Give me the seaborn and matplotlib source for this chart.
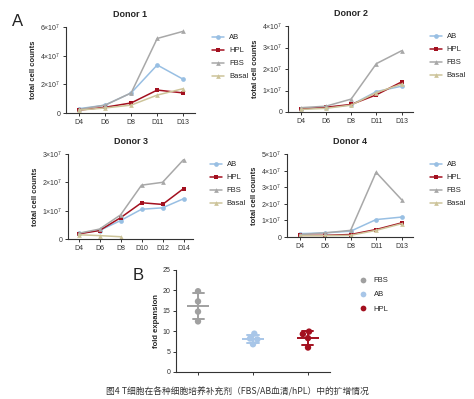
import numpy as np
import pandas as pd
import matplotlib
matplotlib.use("Agg")
import matplotlib.pyplot as plt
import seaborn as sns

sns.set_style("white")
plt.rcParams['font.family'] = ['Liberation Sans', 'Noto Sans CJK SC', 'DejaVu Sans']
plt.rcParams['mathtext.fontset'] = 'custom'
plt.rcParams['mathtext.rm'] = 'Liberation Sans'

# ---- data (cell counts in units of 1e7) ----
MEDIA = ["AB", "HPL", "FBS", "Basal"]
COLORS = {"AB": "#98bfe3", "HPL": "#a3101f", "FBS": "#a8a8a8", "Basal": "#cdc49a"}
MARKERS = {"AB": "o", "HPL": "s", "FBS": "^", "Basal": "^"}

days_1 = ["D4", "D6", "D8", "D11", "D13"]
d1_ab = [0.30, 0.55, 1.40, 3.35, 2.35]
d1_hpl = [0.20, 0.40, 0.70, 1.60, 1.40]
d1_fbs = [0.25, 0.55, 1.40, 5.20, 5.70]
d1_basal = [0.20, 0.35, 0.55, 1.25, 1.70]

days_2 = ["D4", "D6", "D8", "D11", "D13"]
d2_ab = [0.15, 0.20, 0.33, 0.95, 1.20]
d2_hpl = [0.15, 0.22, 0.35, 0.80, 1.40]
d2_fbs = [0.20, 0.27, 0.60, 2.25, 2.85]
d2_basal = [0.12, 0.17, 0.32, 0.90, 1.30]

days_3 = ["D4", "D6", "D8", "D10", "D12", "D14"]
d3_ab = [0.20, 0.30, 0.65, 1.05, 1.10, 1.42]
d3_hpl = [0.18, 0.30, 0.75, 1.28, 1.22, 1.78]
d3_fbs = [0.20, 0.35, 0.85, 1.90, 2.00, 2.80]
d3_basal = [0.15, 0.12, 0.08]

days_4 = ["D4", "D6", "D8", "D11", "D13"]
d4_ab = [0.20, 0.25, 0.35, 1.05, 1.20]
d4_hpl = [0.10, 0.10, 0.15, 0.45, 0.85]
d4_fbs = [0.15, 0.25, 0.40, 3.90, 2.25]
d4_basal = [0.08, 0.08, 0.10, 0.40, 0.80]

b_groups = ["FBS", "AB", "HPL"]
b_fbs = [19.8, 17.3, 14.8, 12.4]
b_ab = [9.4, 8.2, 8.0, 6.8]
b_hpl = [9.9, 9.3, 8.3, 6.0]

donors = [
    ("Donor 1", days_1, [d1_ab, d1_hpl, d1_fbs, d1_basal], [0, 2, 4, 6]),
    ("Donor 2", days_2, [d2_ab, d2_hpl, d2_fbs, d2_basal], [0, 1, 2, 3, 4]),
    ("Donor 3", days_3, [d3_ab, d3_hpl, d3_fbs, d3_basal], [0, 1, 2, 3]),
    ("Donor 4", days_4, [d4_ab, d4_hpl, d4_fbs, d4_basal], [0, 1, 2, 3, 4, 5]),
]

W, H = 474, 399
fig = plt.figure(figsize=(W / 100, H / 100), dpi=100)


def px_axes(left, right, top, bottom):
    return fig.add_axes([left / W, (H - bottom) / H, (right - left) / W, (bottom - top) / H])


boxes = [(66, 195, 27, 113), (288, 413, 26, 112), (68, 193, 154, 239), (287, 413, 154, 237)]

for (title, days, series, yt), box in zip(donors, boxes):
    ax = px_axes(*box)
    rows = []
    for med, vals in zip(MEDIA, series):
        for d, v in zip(days, vals):
            rows.append({"day": d, "count": v, "medium": med})
    df = pd.DataFrame(rows)
    sns.lineplot(data=df, x="day", y="count", hue="medium", style="medium",
                 palette=COLORS, markers=MARKERS, dashes=False, sort=False,
                 linewidth=1.1, markersize=3.4, markeredgewidth=0, ax=ax)
    ax.set_xlim(-0.5, len(days) - 0.55)
    ax.set_ylim(0, yt[-1])
    ax.set_yticks(yt)
    ax.set_yticklabels(["0" if t == 0 else rf"${t}{{\times}}10^7$" for t in yt])
    ax.set_xlabel("")
    ax.set_ylabel("total cell counts", fontsize=5.5, fontweight="bold", labelpad=2)
    ax.set_title(title, fontsize=6.5, fontweight="bold", pad=7)
    sns.despine(ax=ax)
    for s in ["left", "bottom"]:
        ax.spines[s].set_linewidth(0.8)
        ax.spines[s].set_color("#333333")
    ax.tick_params(axis="both", labelsize=5, length=2.5, width=0.7, pad=1.5,
                   colors="#333333", bottom=True, left=True)
    ax.legend(loc="upper left", bbox_to_anchor=(1.08, 1.0), frameon=False,
              fontsize=5.5, handlelength=1.6, labelspacing=0.75, handletextpad=0.6)

# ---- panel B ----
axb = px_axes(176, 330, 270, 372)
bdf = pd.DataFrame({
    "group": ["FBS"] * len(b_fbs) + ["AB"] * len(b_ab) + ["HPL"] * len(b_hpl),
    "fold": b_fbs + b_ab + b_hpl,
})
pal_b = {"FBS": "#a0a0a0", "AB": "#a8c6e8", "HPL": "#a3101f"}
sns.pointplot(data=bdf, x="group", y="fold", hue="group", order=b_groups,
              palette=pal_b, errorbar="sd", capsize=0.2, linestyle="none",
              marker="_", markersize=16, markeredgewidth=1.4,
              err_kws={"linewidth": 1.4}, legend=False, ax=axb)
sns.swarmplot(data=bdf, x="group", y="fold", hue="group", order=b_groups,
              palette=pal_b, size=4.6, ax=axb, legend=True)
axb.set_xlim(-0.4, 2.4)
axb.set_ylim(0, 25)
axb.set_yticks([0, 5, 10, 15, 20, 25])
axb.set_xticklabels([])
axb.set_xlabel("")
axb.set_ylabel("fold expansion", fontsize=5.5, fontweight="bold", labelpad=2)
sns.despine(ax=axb)
for s in ["left", "bottom"]:
    axb.spines[s].set_linewidth(0.8)
    axb.spines[s].set_color("#333333")
axb.tick_params(axis="both", labelsize=5, length=2.5, width=0.7, pad=1.5,
                colors="#333333", bottom=True, left=True)
axb.legend(loc="upper left", bbox_to_anchor=(1.12, 1.0), frameon=False,
           fontsize=5.5, labelspacing=0.9, handletextpad=0.4, markerscale=0.9)

fig.text(12 / W, 1 - 22 / H, "A", fontsize=12, va="center", color="#222222")
fig.text(133 / W, 1 - 276 / H, "B", fontsize=12, va="center", color="#222222")
fig.text(237 / W, 1 - 392 / H,
         "图4 T细胞在各种细胞培养补充剂（FBS/AB血清/hPL）中的扩增情况",
         fontsize=6.3, ha="center", va="center", color="#333333",
         family=["Noto Sans CJK SC", "DejaVu Sans"])

fig.savefig("out.png", dpi=100, facecolor="white")
